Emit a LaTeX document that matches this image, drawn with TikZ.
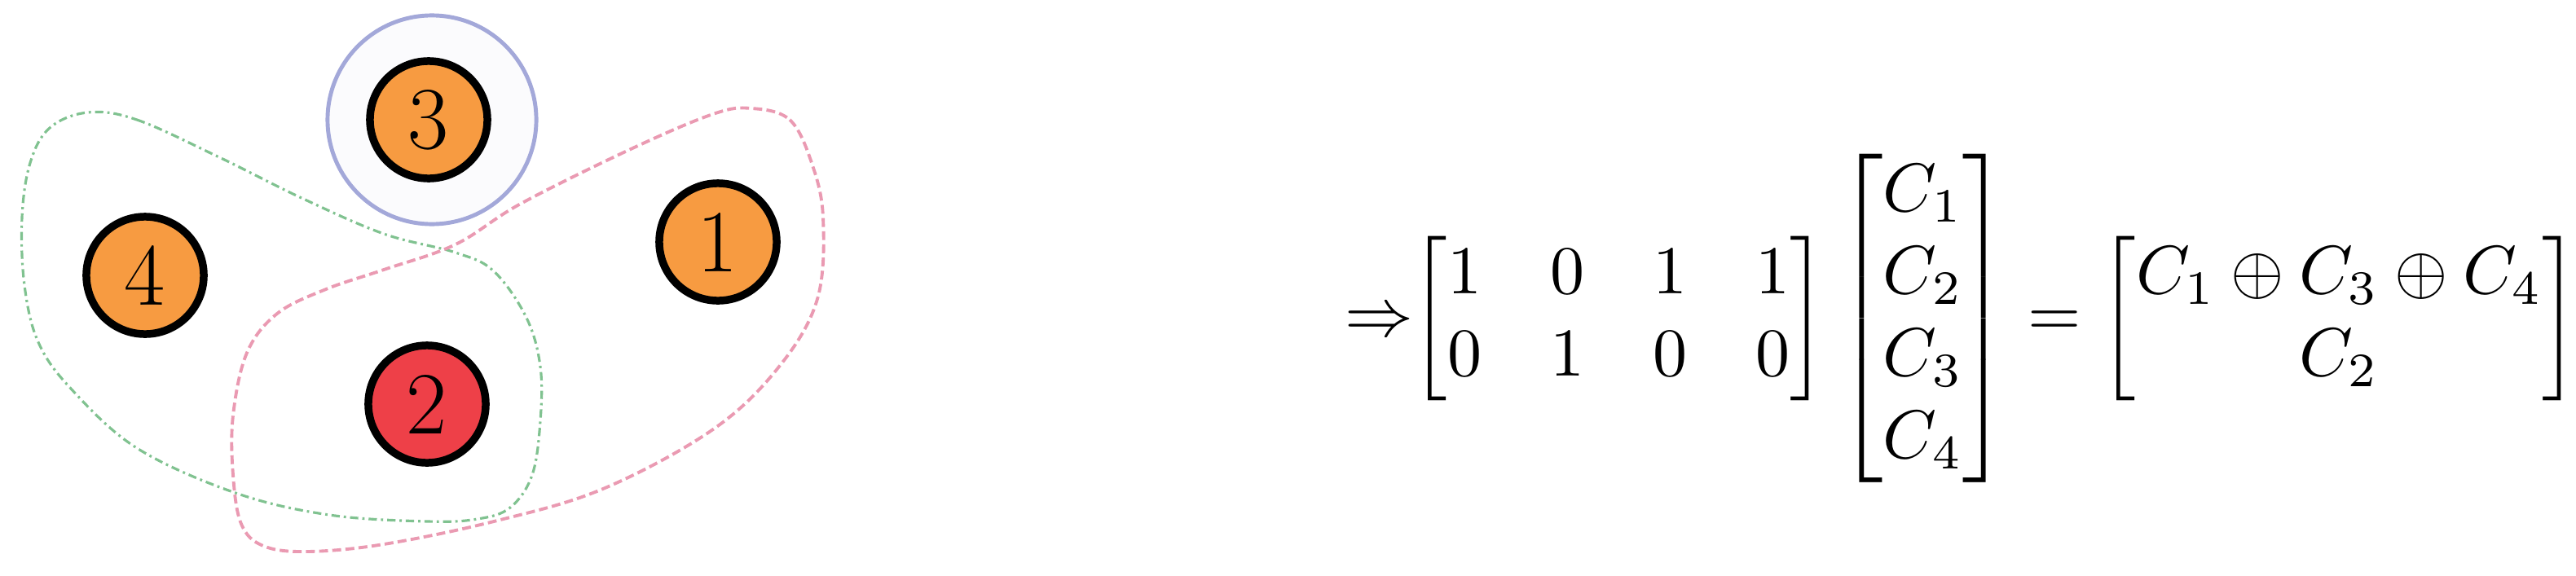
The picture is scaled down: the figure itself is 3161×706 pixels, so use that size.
\documentclass[tikz,border=0pt]{standalone}
\usepackage{graphicx}
\usepackage{amsmath}
\definecolor{nodeorange}{HTML}{F79B41}
\definecolor{nodered}{HTML}{EE4048}
\definecolor{ringblue}{HTML}{A3A8D9}
\definecolor{ringfill}{HTML}{FBFBFD}
\definecolor{grpgreen}{HTML}{80C290}
\definecolor{grppink}{HTML}{EA9AB2}
\tikzset{
  vtx/.style={circle, draw=black, line width=2.7pt, minimum size=1.44cm, inner sep=0pt,
    font=\fontsize{31}{37}\selectfont},
  grpA/.style={draw=grpgreen, line width=0.9pt, dash pattern=on 2.9pt off 1.4pt on 0.8pt off 1.4pt},
  grpB/.style={draw=grppink, line width=1.1pt, dash pattern=on 3.1pt off 1.5pt},
}
\begin{document}
\begin{tikzpicture}[x=0.01cm, y=-0.01cm]
\useasboundingbox (0,0) rectangle (3161,706);
% blue ring around 3
\node[circle, draw=ringblue, fill=ringfill, line width=1.4pt, minimum size=2.56cm, inner sep=0pt] (ring3) at (530,147) {};
% green group (4,2)
\draw[grpA] plot[smooth cycle, tension=0.6] coordinates {
 (108,138) (168,147) (269,193) (370,243) (471,287) (559,310) (606,333) (646,390)
 (663,450) (663,517) (653,583) (626,623) (586,637) (525,640) (404,632) (289,605)
 (168,550) (87,477) (47,420) (30,350) (27,267) (37,200) (61,157)};
% pink group (1,2)
\draw[grpB] plot[smooth cycle, tension=0.6] coordinates {
 (922,133) (969,147) (996,200) (1010,267) (1003,367) (956,450) (875,527) (740,600)
 (606,640) (471,668) (377,677) (323,670) (296,643) (286,583) (286,510) (303,433)
 (340,385) (400,355) (471,331) (559,300) (639,250) (774,183) (875,140)};
% vertices
\node[vtx, fill=nodeorange] (n3) at (526,147) {3};
\node[vtx, fill=nodeorange] (n4) at (178,338) {4};
\node[vtx, fill=nodeorange] (n1) at (881,297) {1};
\node[vtx, fill=nodered] (n2) at (524,496) {2};
% equation
\node[inner sep=0pt, anchor=east] (eq) at (3165,391) {\scalebox{2.39}{$\Rightarrow\mkern-5.5mu
\begin{bmatrix}1&0&1&1\\0&1&0&0\end{bmatrix}
\begin{bmatrix}C_1\\C_2\\C_3\\C_4\end{bmatrix}
=
\begin{bmatrix}C_1\oplus C_3\oplus C_4\\C_2\end{bmatrix}$}};
\end{tikzpicture}
\end{document}
